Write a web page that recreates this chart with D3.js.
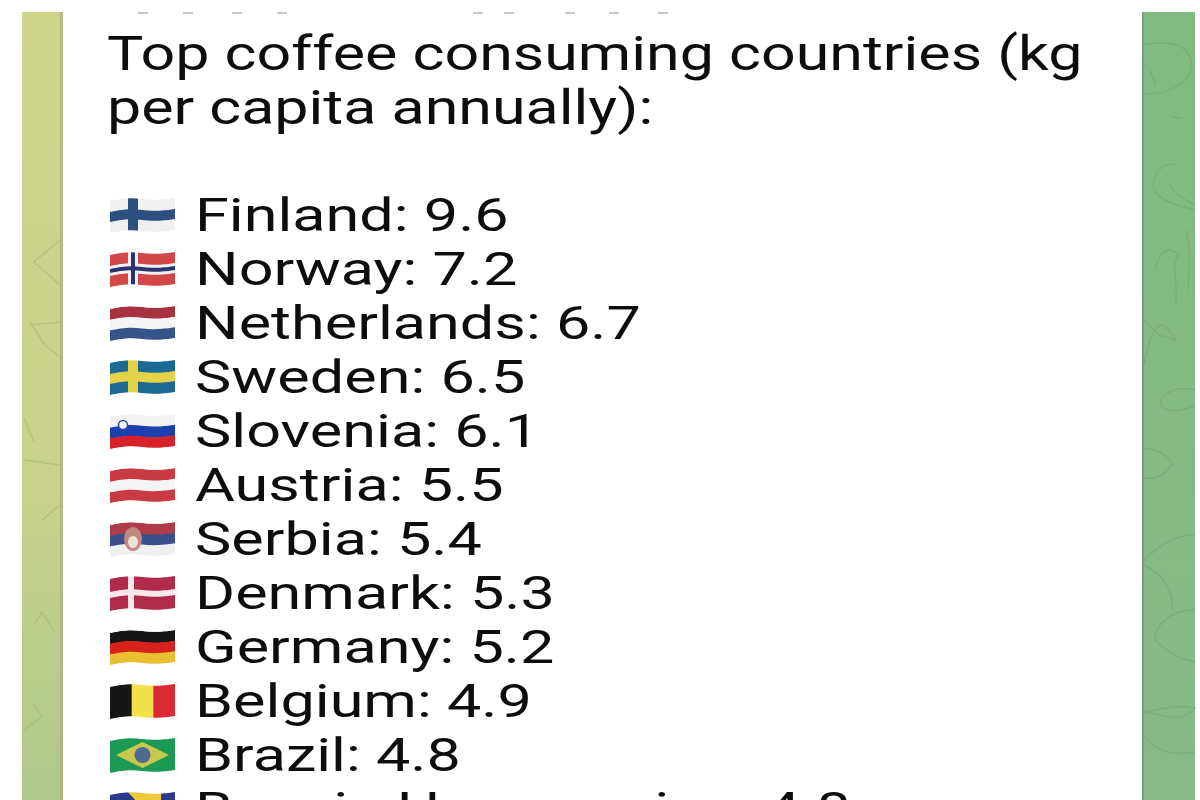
<!DOCTYPE html>
<html>
<head>
<meta charset="utf-8">
<script src="https://cdn.jsdelivr.net/npm/d3@7"></script>
<style>
  html, body { margin: 0; padding: 0; background: #fff; overflow: hidden; }
  text { font-family: Roboto, "Noto Sans", sans-serif; fill: #111; }
</style>
</head>
<body>
<svg width="1200" height="800"></svg>
<script>
const titleLines = ["Top coffee consuming countries (kg", "per capita annually):"]
const countries = ["Finland", "Norway", "Netherlands", "Sweden", "Slovenia", "Austria",
  "Serbia", "Denmark", "Germany", "Belgium", "Brazil", "Bosnia Herzegovina"]
const values = [9.6, 7.2, 6.7, 6.5, 6.1, 5.5, 5.4, 5.3, 5.2, 4.9, 4.8, 4.8]

const svg = d3.select("svg")
const defs = svg.append("defs")

svg.append("rect").attr("width", 1200).attr("height", 800).attr("fill", "#fff")

// chat wallpaper strips at each side
const leftGrad = defs.append("linearGradient").attr("id", "leftGrad")
  .attr("x1", 0).attr("x2", 0).attr("y1", 0).attr("y2", 1)
leftGrad.append("stop").attr("offset", "0%").attr("stop-color", "#cdd48a")
leftGrad.append("stop").attr("offset", "60%").attr("stop-color", "#c9d28a")
leftGrad.append("stop").attr("offset", "100%").attr("stop-color", "#aec88c")

const rightGrad = defs.append("linearGradient").attr("id", "rightGrad")
  .attr("x1", 0).attr("x2", 0).attr("y1", 0).attr("y2", 1)
rightGrad.append("stop").attr("offset", "0%").attr("stop-color", "#80bb82")
rightGrad.append("stop").attr("offset", "100%").attr("stop-color", "#88b988")

svg.append("rect").attr("x", 22).attr("y", 12).attr("width", 41).attr("height", 788)
  .attr("fill", "url(#leftGrad)")
svg.append("rect").attr("x", 60).attr("y", 12).attr("width", 3).attr("height", 788)
  .attr("fill", "#a9ad80").attr("opacity", 0.7)
svg.append("rect").attr("x", 1142).attr("y", 12).attr("width", 53).attr("height", 788)
  .attr("fill", "url(#rightGrad)")
svg.append("rect").attr("x", 1142).attr("y", 12).attr("width", 2).attr("height", 788)
  .attr("fill", "#7f9a80")

// faint doodles in the wallpaper
const rightDoodles = [
  "M1144 45 C1165 40 1190 42 1192 65 C1190 85 1165 95 1144 94 M1150 70 L1156 85",
  "M1172 117 L1182 118",
  "M1195 210 C1175 205 1155 200 1153 185 C1155 170 1165 162 1175 165 M1170 185 C1175 195 1185 200 1195 205",
  "M1186 230 C1190 245 1190 270 1188 290",
  "M1155 270 C1160 250 1170 245 1178 255 C1170 270 1180 290 1175 305",
  "M1144 365 C1150 330 1160 310 1175 340 C1150 330 1170 345 1144 320",
  "M1195 390 C1175 385 1160 395 1160 405 C1170 415 1185 410 1195 405",
  "M1144 448 C1160 450 1172 458 1172 465 C1165 475 1155 480 1144 478",
  "M1144 560 C1165 540 1180 535 1195 535 M1144 565 C1165 575 1175 595 1172 610",
  "M1195 610 C1170 610 1155 625 1155 640 C1170 655 1185 660 1195 662",
  "M1144 712 C1165 708 1180 705 1195 708 C1180 725 1165 715 1144 712 M1144 735 C1155 755 1180 755 1195 752"
]
svg.selectAll("path.rdoodle").data(rightDoodles).join("path")
  .attr("class", "rdoodle")
  .attr("d", d => d)
  .attr("fill", "none").attr("stroke", "#6fa474").attr("stroke-width", 1.5).attr("opacity", 0.5)

const leftDoodles = [
  "M60 240 L34 262 L60 285",
  "M30 322 L45 345 L60 357 M30 325 L60 322",
  "M24 418 L34 442 M24 460 L60 465",
  "M42 520 L60 505",
  "M34 625 L42 612 L55 632",
  "M24 730 L42 716 L34 705"
]
svg.selectAll("path.ldoodle").data(leftDoodles).join("path")
  .attr("class", "ldoodle")
  .attr("d", d => d)
  .attr("fill", "none").attr("stroke", "#aab46f").attr("stroke-width", 1.5).attr("opacity", 0.55)

// dashes left from the line cut off above the title
const cutDashes = [138, 183, 232, 277, 473, 504, 565, 609, 658]
svg.selectAll("line.cut").data(cutDashes).join("line")
  .attr("class", "cut")
  .attr("x1", d => d).attr("x2", d => d + 10)
  .attr("y1", 13).attr("y2", 13)
  .attr("stroke", "#b5b5b5").attr("stroke-width", 1.5)

const soft = defs.append("filter").attr("id", "soft")
soft.append("feGaussianBlur").attr("stdDeviation", 0.6)
const softText = defs.append("filter").attr("id", "softText")
softText.append("feGaussianBlur").attr("stdDeviation", 0.35)

// reference is a stretched screenshot, so the text gets a horizontal scale
svg.selectAll("text.title").data(titleLines).join("text")
  .attr("class", "title")
  .attr("transform", (d, i) => `translate(107,${70 + i * 54}) scale(1.283,1)`)
  .attr("font-size", 47.5)
  .attr("filter", "url(#softText)")
  .text(d => d)

const y = d3.scalePoint()
  .domain(countries)
  .range([215, 215 + 54 * (countries.length - 1)])

const flagW = 65
const flagH = 32

// stripes as fractions of the flag, h = horizontal, v = vertical
const flagStripes = {
  Netherlands: ["h", "#a8323f", "#f4f4f4", "#34548a"],
  Slovenia: ["h", "#f2f2f2", "#1c3fb0", "#d8242c"],
  Austria: ["h", "#c83a42", "#f4f4f4", "#c83a42"],
  Serbia: ["h", "#b03a48", "#3a4f8c", "#f0f0f0"],
  Germany: ["h", "#141414", "#d8201c", "#e8c030"],
  Belgium: ["v", "#141414", "#f4e04a", "#dc2c34"],
}
// field, cross colour, inner cross colour
const flagCrosses = {
  Finland: ["#f0f0f0", "#2a4f80", null],
  Norway: ["#d4474a", "#f2f2f2", "#2a3570"],
  Sweden: ["#1f6a94", "#e4d24a", null],
  Denmark: ["#b02c48", "#f6e8ea", null],
}

// the wave of the emoji flags, offset down the flag at fractions of its width
const waveX = [0, 0.33, 0.66, 1]
const waveY = [2, -2, 2, -1]
const wavePath = d3.line().curve(d3.curveBasis)
const wavePts = top => waveX.map((t, i) => [t * flagW, top + waveY[i]])

function drawFlag(g, name) {
  const f = g.append("g").attr("filter", "url(#soft)")
  const band = (y0, y1, c) => f.append("path")
    .attr("d", wavePath(wavePts(y0)) + "L" + wavePath(wavePts(y1).reverse()).slice(1) + "Z")
    .attr("fill", c)

  const clipId = "clip" + countries.indexOf(name)
  defs.append("clipPath").attr("id", clipId).append("path")
    .attr("d", wavePath(wavePts(0)) + "L" + wavePath(wavePts(flagH).reverse()).slice(1) + "Z")
  f.attr("clip-path", `url(#${clipId})`)

  const upright = (x, w, c) => f.append("rect").attr("x", x).attr("y", -4)
    .attr("width", w).attr("height", flagH + 8).attr("fill", c)

  if (flagStripes[name]) {
    const [dir, ...cols] = flagStripes[name]
    cols.forEach((c, i) => {
      if (dir === "h") band(i * flagH / 3, (i + 1) * flagH / 3 + 0.5, c)
      else upright(i * flagW / 3, flagW / 3 + 0.5, c)
    })
    if (name === "Slovenia") {
      f.append("circle").attr("cx", 13).attr("cy", 10).attr("r", 4.5)
        .attr("fill", "#f4f4f4").attr("stroke", "#2a4aa8").attr("stroke-width", 1.5)
    }
    if (name === "Serbia") {
      f.append("ellipse").attr("cx", 23).attr("cy", 16).attr("rx", 9).attr("ry", 12)
        .attr("fill", "#c0887e")
      f.append("ellipse").attr("cx", 23).attr("cy", 19).attr("rx", 5).attr("ry", 6)
        .attr("fill", "#f0e0dc")
    }
  } else if (flagCrosses[name]) {
    const [field, cross, inner] = flagCrosses[name]
    band(-2, flagH + 2, field)
    const cw = name === "Denmark" ? 6 : 10
    upright(18, cw, cross)
    band(flagH / 2 - cw / 2, flagH / 2 + cw / 2, cross)
    if (inner) {
      upright(21, 4, inner)
      band(flagH / 2 - 2, flagH / 2 + 2, inner)
    }
  } else if (name === "Brazil") {
    band(-2, flagH + 2, "#1f9a55")
    f.append("path").attr("d", `M6 ${flagH / 2} L${flagW / 2} 3 L${flagW - 6} ${flagH / 2} L${flagW / 2} ${flagH - 3}Z`)
      .attr("fill", "#c8c850")
    f.append("circle").attr("cx", flagW / 2).attr("cy", flagH / 2).attr("r", 8).attr("fill", "#4f6a90")
  } else {
    // Bosnia, only the top is in frame
    band(-2, flagH + 2, "#2c3a8c")
    f.append("path").attr("d", `M16 -3 L${flagW - 14} -3 L${flagW - 14} ${flagH + 3}Z`).attr("fill", "#eec93a")
  }
}

const rows = svg.selectAll("g.row").data(countries).join("g")
  .attr("class", "row")
  .attr("transform", d => `translate(0,${y(d)})`)

rows.append("g")
  .attr("transform", `translate(110,${-flagH / 2})`)
  .each(function (d) { drawFlag(d3.select(this), d) })

rows.append("text")
  .attr("transform", "translate(195,16) scale(1.33,1)")
  .attr("font-size", 46)
  .attr("filter", "url(#softText)")
  .text((d, i) => `${d}: ${values[i]}`)
</script>
</body>
</html>
